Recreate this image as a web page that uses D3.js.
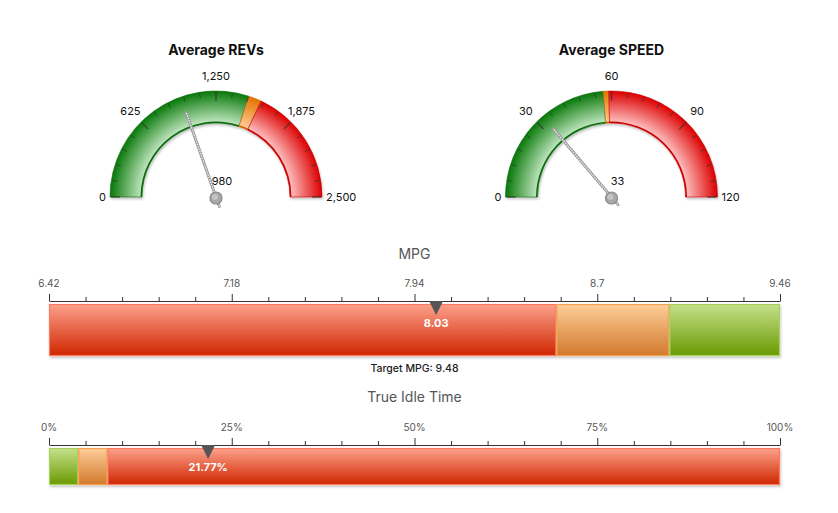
<!DOCTYPE html>
<html lang="en">
<head>
<meta charset="utf-8">
<title>Vehicle gauges</title>
<script src="https://cdn.jsdelivr.net/npm/d3@7"></script>
<style>
  body { margin: 0; background: #fff; }
  svg { font-family: Inter, "Noto Sans", sans-serif; }
</style>
</head>
<body>
<script>
// gauge data
var revsTicks = [0, 625, 1250, 1875, 2500];
var revsBands = [0, 1500, 1600, 2500];
var revsValue = 980;

var speedTicks = [0, 30, 60, 90, 120];
var speedBands = [0, 57, 59, 120];
var speedValue = 33;

// bar data
var mpgTicks = [6.42, 7.18, 7.94, 8.7, 9.46];
var mpgBands = [6.42, 8.53, 9.0, 9.46];
var mpgValue = 8.03;
var mpgTarget = 9.48;

var idleTicks = [0, 25, 50, 75, 100];
var idleBands = [0, 4, 8, 100];
var idleValue = 21.77;

var w = 838, h = 513;

var svg = d3.select("body").append("svg")
  .attr("width", w).attr("height", h);

var defs = svg.append("defs");

var shadow = defs.append("filter").attr("id", "shadow")
  .attr("x", "-10%").attr("y", "-10%").attr("width", "120%").attr("height", "130%");
shadow.append("feDropShadow").attr("dx", 1).attr("dy", 2)
  .attr("stdDeviation", 1.2).attr("flood-color", "#000").attr("flood-opacity", 0.22);

// colours for gauge bands: inner light, outer dark, edge
var gaugeColors = [
  { inner: "#c4e8c4", outer: "#087808", edge: "#0a6a0a" },
  { inner: "#ffcf98", outer: "#e27400", edge: "#c86000" },
  { inner: "#ffc4c4", outer: "#dc0000", edge: "#c80000" }
];
// bar colours: top, bottom, stroke
var barColors = {
  red:    { top: "#fca08a", bottom: "#cf2600", stroke: "#fb7a5e" },
  orange: { top: "#fdcd98", bottom: "#d27a2c", stroke: "#f5a050" },
  green:  { top: "#c5e08a", bottom: "#6a9a02", stroke: "#a8d05c" }
};

function gauge(id, cx, cy, title, ticks, bands, value) {
  var R = 106, r = 74;
  var g = svg.append("g");
  var angle = d3.scaleLinear()
    .domain([ticks[0], ticks[ticks.length - 1]])
    .range([-Math.PI / 2, Math.PI / 2]);

  g.append("text")
    .attr("x", cx).attr("y", 55)
    .attr("text-anchor", "middle")
    .attr("font-size", 14).attr("font-weight", 700)
    .attr("fill", "#111")
    .text(title);

  var arc = d3.arc().innerRadius(r).outerRadius(R);
  var bandG = g.append("g").attr("transform", "translate(" + cx + "," + cy + ")")
    .attr("filter", "url(#shadow)");

  for (var i = 0; i < bands.length - 1; i++) {
    var c = gaugeColors[i];
    var gid = id + "grad" + i;
    var grad = defs.append("radialGradient").attr("id", gid)
      .attr("gradientUnits", "userSpaceOnUse")
      .attr("cx", 0).attr("cy", 0).attr("r", R);
    grad.append("stop").attr("offset", r / R).attr("stop-color", c.inner);
    grad.append("stop").attr("offset", 1).attr("stop-color", c.outer);

    var a0 = angle(bands[i]), a1 = angle(bands[i + 1]);
    bandG.append("path")
      .attr("d", arc({ startAngle: a0, endAngle: a1 }))
      .attr("fill", "url(#" + gid + ")")
      .attr("stroke", c.edge).attr("stroke-width", 0.6);
    // darker inner rim
    bandG.append("path")
      .attr("d", d3.arc().innerRadius(r).outerRadius(r + 1.5)({ startAngle: a0, endAngle: a1 }))
      .attr("fill", c.edge);
  }

  // ticks: majors plus 4 minors between
  var step = (ticks[1] - ticks[0]) / 5;
  var tickVals = d3.range(ticks[0], ticks[ticks.length - 1] + step / 2, step);
  var tg = g.append("g").attr("transform", "translate(" + cx + "," + cy + ")");
  tickVals.forEach(function (v, k) {
    var a = angle(v);
    var major = k % 5 === 0;
    var r1 = R - 1, r2 = R - (major ? 10 : 6);
    tg.append("line")
      .attr("x1", r1 * Math.sin(a)).attr("y1", -r1 * Math.cos(a))
      .attr("x2", r2 * Math.sin(a)).attr("y2", -r2 * Math.cos(a))
      .attr("stroke", "#333").attr("stroke-opacity", 0.75)
      .attr("stroke-width", major ? 1.3 : 1);
  });

  ticks.forEach(function (v, k) {
    var a = angle(v);
    var end = k === 0 || k === ticks.length - 1;
    var lr = end ? 110 : 121;
    tg.append("text")
      .attr("x", lr * Math.sin(a))
      .attr("y", -lr * Math.cos(a))
      .attr("dy", "0.35em")
      .attr("text-anchor", k === 0 ? "end" : (k === ticks.length - 1 ? "start" : "middle"))
      .attr("font-size", 11).attr("fill", "#111")
      .text(d3.format(",")(v));
  });

  // needle
  var a = angle(value);
  var L = 90, T = 10;
  var nx = L * Math.sin(a), ny = -L * Math.cos(a);
  var tx = -T * Math.sin(a), ty = T * Math.cos(a);
  tg.append("line")
    .attr("x1", tx).attr("y1", ty).attr("x2", nx).attr("y2", ny)
    .attr("stroke", "#9a9a9a").attr("stroke-width", 3).attr("stroke-linecap", "round");
  tg.append("line")
    .attr("x1", tx).attr("y1", ty).attr("x2", nx).attr("y2", ny)
    .attr("stroke", "#f2f2f2").attr("stroke-width", 1.2)
    .attr("stroke-dasharray", "1.5,1");
  tg.append("circle")
    .attr("cx", 0).attr("cy", 1).attr("r", 6)
    .attr("fill", "#a8a8a8").attr("stroke", "#8a8a8a").attr("stroke-width", 1.2);
  tg.append("circle")
    .attr("cx", -1).attr("cy", 0).attr("r", 3)
    .attr("fill", "#c4c4c4");

  // value label
  tg.append("text")
    .attr("x", 6).attr("y", -16)
    .attr("dy", "0.35em")
    .attr("text-anchor", "middle")
    .attr("font-size", 11).attr("fill", "#111")
    .text(value);
}

gauge("revs", 216, 197, "Average REVs", revsTicks, revsBands, revsValue);
gauge("speed", 611.5, 197, "Average SPEED", speedTicks, speedBands, speedValue);

// linear bars
["red", "orange", "green"].forEach(function (k) {
  var gr = defs.append("linearGradient").attr("id", "bar-" + k)
    .attr("x1", 0).attr("y1", 0).attr("x2", 0).attr("y2", 1);
  gr.append("stop").attr("offset", 0).attr("stop-color", barColors[k].top);
  gr.append("stop").attr("offset", 1).attr("stop-color", barColors[k].bottom);
});

function bullet(opts) {
  var x = d3.scaleLinear().domain([opts.ticks[0], opts.ticks[opts.ticks.length - 1]]).range([49, 780]);
  var g = svg.append("g");

  g.append("text")
    .attr("x", 414.5).attr("y", opts.titleY)
    .attr("text-anchor", "middle")
    .attr("font-size", 14).attr("fill", "#555")
    .text(opts.title);

  var step = (opts.ticks[1] - opts.ticks[0]) / 5;
  var minor = d3.range(0, (opts.ticks.length - 1) * 5 + 1).map(function (i) { return opts.ticks[0] + i * step; });

  var axis = d3.axisTop(x)
    .tickValues(minor)
    .tickSize(4)
    .tickSizeOuter(0)
    .tickFormat("");
  var ag = g.append("g").attr("transform", "translate(0," + opts.axisY + ")").call(axis);
  ag.select(".domain").attr("stroke", "#333");
  ag.selectAll(".tick line").attr("stroke", "#333")
    .attr("y2", function (d, i) { return i % 5 === 0 ? -7 : -4; });

  g.selectAll(null).data(opts.ticks).enter().append("text")
    .attr("x", function (d) { return x(d); })
    .attr("y", opts.axisY - 18)
    .attr("dy", "0.35em")
    .attr("text-anchor", "middle")
    .attr("font-size", 10).attr("fill", "#555")
    .text(opts.format);

  var bg = g.append("g").attr("filter", "url(#shadow)");
  for (var i = 0; i < opts.bands.length - 1; i++) {
    var k = opts.colors[i];
    bg.append("rect")
      .attr("x", x(opts.bands[i]) + 0.5)
      .attr("y", opts.barY + 0.5)
      .attr("width", x(opts.bands[i + 1]) - x(opts.bands[i]) - 1)
      .attr("height", opts.barH - 1)
      .attr("fill", "url(#bar-" + k + ")")
      .attr("stroke", barColors[k].stroke).attr("stroke-width", 1.2);
  }

  var vx = x(opts.value);
  g.append("path")
    .attr("d", d3.line()([[vx - 7, opts.axisY], [vx + 7, opts.axisY], [vx, opts.axisY + 14]]) + "Z")
    .attr("fill", "#555");
  g.append("text")
    .attr("x", vx).attr("y", opts.axisY + 22)
    .attr("dy", "0.35em")
    .attr("text-anchor", "middle")
    .attr("font-size", 11).attr("font-weight", 700)
    .attr("fill", "#fff")
    .text(opts.valueText);

  if (opts.note) {
    g.append("text")
      .attr("x", 414.5).attr("y", opts.barY + opts.barH + 12)
      .attr("dy", "0.35em")
      .attr("text-anchor", "middle")
      .attr("font-size", 10.5).attr("font-weight", 500).attr("fill", "#222")
      .text(opts.note);
  }
}

bullet({
  title: "MPG", titleY: 259, axisY: 301, barY: 304, barH: 52,
  ticks: mpgTicks, bands: mpgBands, colors: ["red", "orange", "green"],
  value: mpgValue, valueText: mpgValue.toFixed(2),
  format: function (d) { return d; },
  note: "Target MPG: " + mpgTarget
});

bullet({
  title: "True Idle Time", titleY: 402, axisY: 445, barY: 448, barH: 37,
  ticks: idleTicks, bands: idleBands, colors: ["green", "orange", "red"],
  value: idleValue, valueText: idleValue + "%",
  format: function (d) { return d + "%"; }
});
</script>
</body>
</html>
